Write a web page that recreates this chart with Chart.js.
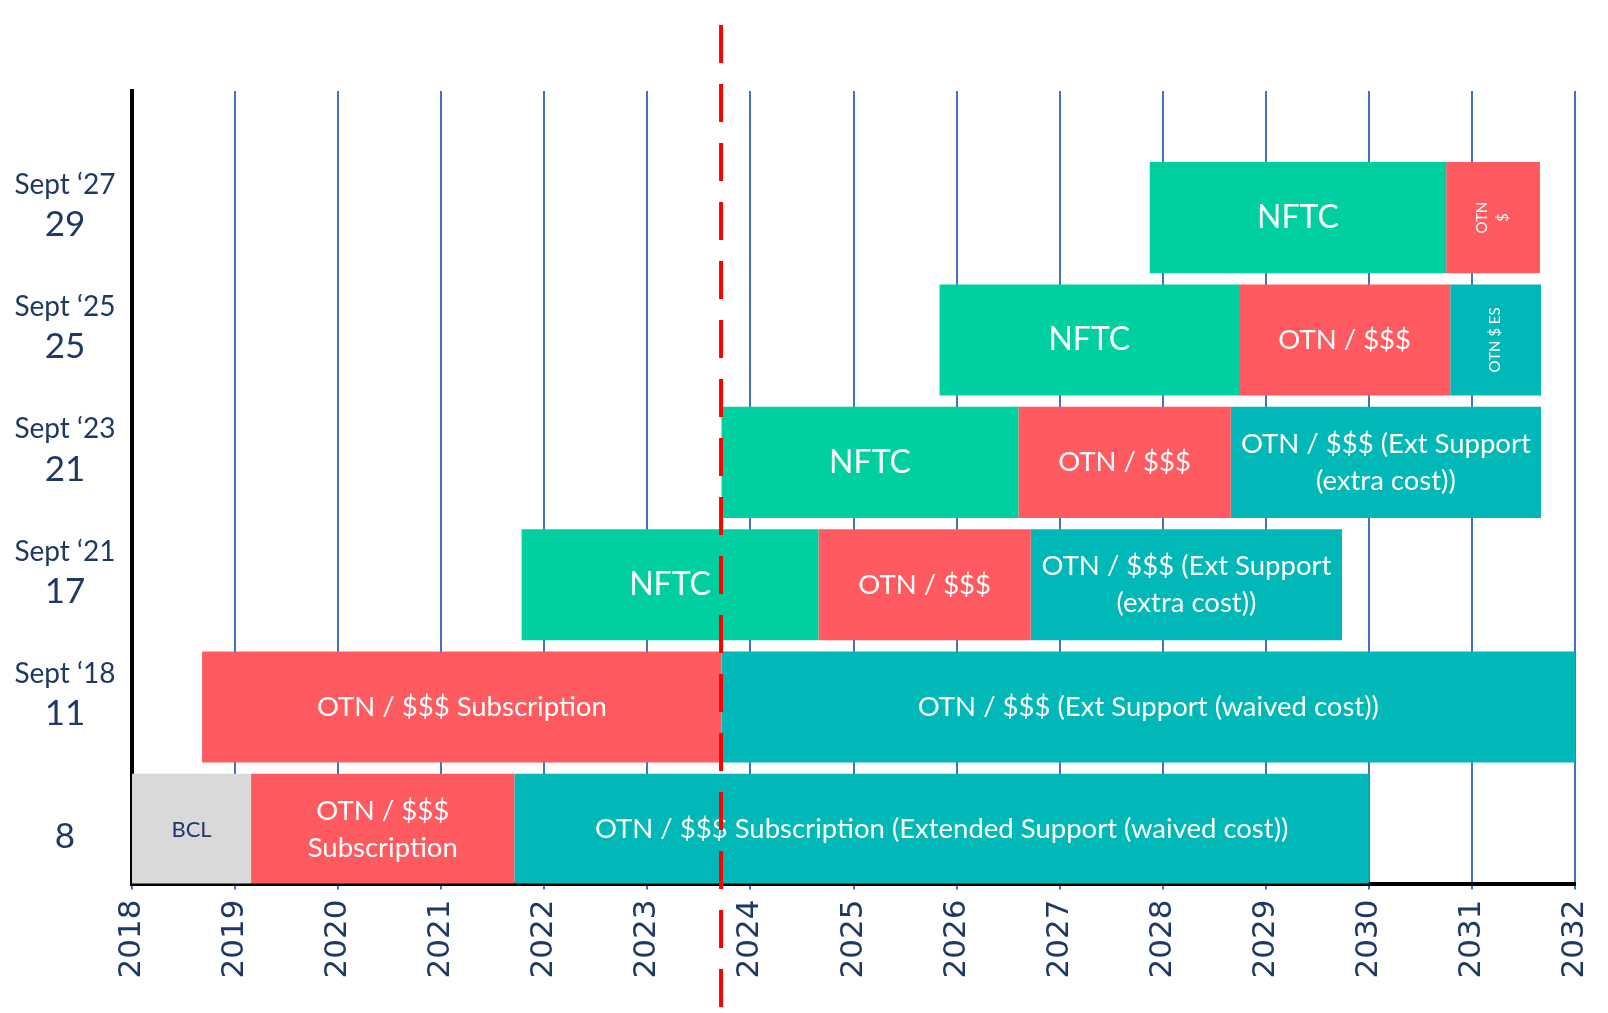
<!DOCTYPE html>
<html>
<head>
<meta charset="utf-8">
<script src="https://cdn.jsdelivr.net/npm/chart.js@4.4.1/dist/chart.umd.min.js"></script>
<style>
  html, body { margin: 0; padding: 0; background: #fff; }
</style>
</head>
<body>
<canvas id="gantt-chart" width="1608" height="1013"></canvas>
<script>
// rows, bottom to top
const versions = ['8', '11', '17', '21', '25', '29'];
const releases = ['', 'Sept \u201818', 'Sept \u201821', 'Sept \u201823', 'Sept \u201825', 'Sept \u201827'];
const years = [2018, 2019, 2020, 2021, 2022, 2023, 2024, 2025, 2026, 2027, 2028, 2029, 2030, 2031, 2032];
const today = 2023.715;

// [start, end] in years, one per row (null = no bar)
const bclRange  = [[2018, 2019.155], null, null, null, null, null];
const nftcRange = [null, null, [2021.78, 2024.66], [2023.72, 2026.60], [2025.835, 2028.74], [2027.874, 2030.75]];
const otnRange  = [[2019.155, 2021.71], [2018.68, 2023.72], [2024.66, 2026.72], [2026.60, 2028.66], [2028.74, 2030.79], [2030.75, 2031.66]];
const extRange  = [[2021.71, 2030.0], [2023.72, 2032], [2026.72, 2029.74], [2028.66, 2031.67], [2030.79, 2031.67], null];

const bclText  = ['BCL', '', '', '', '', ''];
const nftcText = ['', '', 'NFTC', 'NFTC', 'NFTC', 'NFTC'];
const otnText  = ['OTN / $$$\nSubscription', 'OTN / $$$ Subscription', 'OTN / $$$', 'OTN / $$$', 'OTN / $$$', 'OTN\n$'];
const extText  = ['OTN / $$$ Subscription (Extended Support (waived cost))', 'OTN / $$$ (Ext Support (waived cost))',
                  'OTN / $$$ (Ext Support\n(extra cost))', 'OTN / $$$ (Ext Support\n(extra cost))', 'OTN $ ES', ''];

const navy = '#1F3864';
const rotatedText = ['OTN\n$', 'OTN $ ES'];

function toPoints(ranges, texts) {
  return ranges
    .map((r, i) => r ? { x: r, y: i, text: texts[i] } : null)
    .filter(p => p);
}

function labelStyle(text) {
  if (text === 'NFTC') return { size: 32, color: '#fff', line: 40 };
  if (text === 'BCL') return { size: 22, color: navy, line: 26 };
  if (rotatedText.includes(text)) return { size: 15, color: '#fff', line: 21 };
  return { size: 27.5, color: '#fff', line: 37 };
}

const barLabels = {
  id: 'barLabels',
  afterDatasetsDraw(chart) {
    const ctx = chart.ctx;
    chart.data.datasets.forEach((ds, di) => {
      const meta = chart.getDatasetMeta(di);
      meta.data.forEach((bar, i) => {
        const text = ds.data[i].text;
        if (!text) return;
        const st = labelStyle(text);
        const lines = text.split('\n');
        const cx = (bar.x + bar.base) / 2;
        const cy = bar.y;
        ctx.save();
        ctx.translate(cx, cy);
        if (rotatedText.includes(text)) ctx.rotate(-Math.PI / 2);
        ctx.font = st.size + 'px Lato';
        ctx.fillStyle = st.color;
        ctx.textAlign = 'center';
        ctx.textBaseline = 'middle';
        lines.forEach((l, k) => {
          ctx.fillText(l, 0, (k - (lines.length - 1) / 2) * st.line);
        });
        ctx.restore();
      });
    });
  }
};

const rowLabels = {
  id: 'rowLabels',
  afterDraw(chart) {
    const ctx = chart.ctx;
    const y = chart.scales.y;
    const cx = 65;
    ctx.save();
    ctx.fillStyle = navy;
    ctx.textAlign = 'center';
    ctx.textBaseline = 'middle';
    versions.forEach((v, i) => {
      const py = y.getPixelForValue(i);
      ctx.font = '28px Lato';
      ctx.fillText(releases[i], cx, py - 33);
      ctx.font = '35px Lato';
      ctx.fillText(v, cx, py + 7);
    });
    ctx.restore();
  }
};

const todayLine = {
  id: 'todayLine',
  afterDraw(chart) {
    const ctx = chart.ctx;
    const px = chart.scales.x.getPixelForValue(today);
    ctx.save();
    ctx.strokeStyle = '#FF0000';
    ctx.lineWidth = 4;
    ctx.setLineDash([38, 21]);
    ctx.beginPath();
    ctx.moveTo(px, 25);
    ctx.lineTo(px, chart.height);
    ctx.stroke();
    ctx.restore();
  }
};

const config = {
  type: 'bar',
  data: {
    datasets: [
      { label: 'BCL', data: toPoints(bclRange, bclText), backgroundColor: '#D9D9D9' },
      { label: 'NFTC', data: toPoints(nftcRange, nftcText), backgroundColor: '#00D0A0' },
      { label: 'OTN / $$$', data: toPoints(otnRange, otnText), backgroundColor: '#FF5A5F' },
      { label: 'Extended Support', data: toPoints(extRange, extText), backgroundColor: '#00B8B8' },
    ],
  },
  options: {
    responsive: false,
    animation: false,
    indexAxis: 'y',
    layout: { padding: { top: 91, right: 33, left: 0, bottom: 0 } },
    datasets: {
      bar: { grouped: false, categoryPercentage: 1, barPercentage: 0.908, borderWidth: 0 },
    },
    plugins: {
      legend: { display: false },
      tooltip: { enabled: false },
    },
    scales: {
      x: {
        type: 'linear',
        min: 2018,
        max: 2032,
        offset: false,
        afterBuildTicks: scale => { scale.ticks = years.map(v => ({ value: v })); },
        afterFit: scale => {
          scale.height = 129.5;
          scale.paddingRight = 0;
          scale.paddingLeft = 0;
        },
        grid: { color: '#4472C4', lineWidth: 2, tickLength: 6, tickColor: '#4472C4', offset: false },
        border: { display: true, color: '#000', width: 4 },
        ticks: {
          autoSkip: false,
          minRotation: 90,
          maxRotation: 90,
          padding: 10,
          color: navy,
          font: { family: 'DejaVu Sans', size: 31 },
          callback: v => String(v),
        },
      },
      y: {
        type: 'linear',
        min: -0.442,
        max: 6.035,
        offset: false,
        afterBuildTicks: scale => { scale.ticks = versions.map((v, i) => ({ value: i })); },
        afterFit: scale => { scale.width = 132; },
        grid: { display: false, offset: false },
        border: { display: true, color: '#000', width: 4 },
        ticks: { display: false },
      },
    },
  },
  plugins: [barLabels, rowLabels, todayLine],
};

const ctx = document.getElementById('gantt-chart').getContext('2d');
const ganttChart = new Chart(ctx, config);
</script>
</body>
</html>
